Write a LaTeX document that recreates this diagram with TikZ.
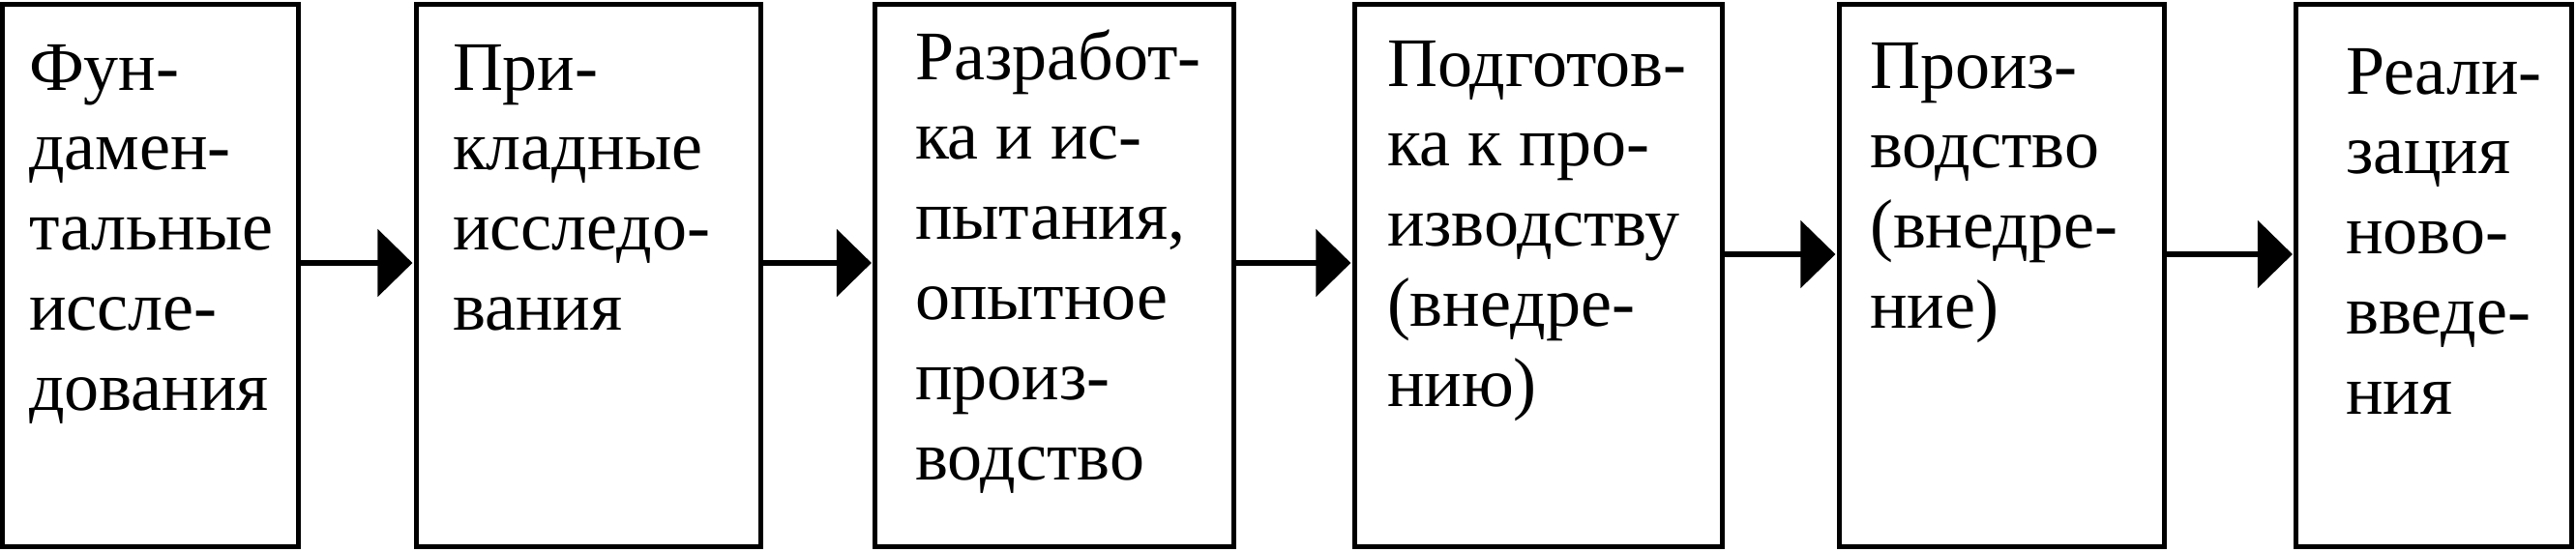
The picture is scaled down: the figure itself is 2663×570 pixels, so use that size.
\documentclass[tikz,border=0pt]{standalone}
\usepackage{fontspec}
\setmainfont{Liberation Serif}
\usetikzlibrary{arrows.meta}
\begin{document}
\begin{tikzpicture}[x=0.25pt,y=-0.25pt,
  boxst/.style={draw=black, line width=1.25pt, inner sep=0pt, outer sep=0pt,
    anchor=north west, minimum height=140.375pt},
  txt/.style={anchor=base west, inner sep=0pt, outer sep=0pt,
    font=\fontsize{18pt}{20.7pt}\selectfont},
  arr/.style={line width=1.5pt, shorten >=0.9pt,
    -{Triangle[length=9pt,width=17.25pt]}}]
\useasboundingbox (0,0) rectangle (2663,570);
% boxes
\node[boxst, minimum width=76.5pt]  (b1) at (2.5,4) {};
\node[boxst, minimum width=89pt]    (b2) at (430,4) {};
\node[boxst, minimum width=92.75pt] (b3) at (904.5,4) {};
\node[boxst, minimum width=95pt]    (b4) at (1400,4) {};
\node[boxst, minimum width=84pt]    (b5) at (1901,4) {};
\node[boxst, minimum width=71.25pt] (b6) at (2373.5,4) {};
% texts
\node[txt] (t1) at (30,93)   {\parbox[t]{100pt}{\raggedright Фун-\\дамен-\\тальные\\иссле-\\дования}};
\node[txt] (t2) at (468,93)  {\parbox[t]{100pt}{\raggedright При-\\кладные\\исследо-\\вания}};
\node[txt] (t3) at (946,82)  {\parbox[t]{100pt}{\raggedright Разработ-\\ка и ис-\\пытания,\\опытное\\произ-\\водство}};
\node[txt] (t4) at (1434,89) {\parbox[t]{100pt}{\raggedright Подготов-\\ка к про-\\изводству\\(внедре-\\нию)}};
\node[txt] (t5) at (1933,91) {\parbox[t]{100pt}{\raggedright Произ-\\водство\\(внедре-\\ние)}};
\node[txt] (t6) at (2425,97) {\parbox[t]{100pt}{\raggedright Реали-\\зация\\ново-\\введе-\\ния}};
% arrow levels
\coordinate (ya) at (0,272);
\coordinate (yb) at (0,263);
\draw[arr] (b1.east |- ya) -- (b2.west |- ya);
\draw[arr] (b2.east |- ya) -- (b3.west |- ya);
\draw[arr] (b3.east |- ya) -- (b4.west |- ya);
\draw[arr] (b4.east |- yb) -- (b5.west |- yb);
\draw[arr] (b5.east |- yb) -- (b6.west |- yb);
\end{tikzpicture}
\end{document}
